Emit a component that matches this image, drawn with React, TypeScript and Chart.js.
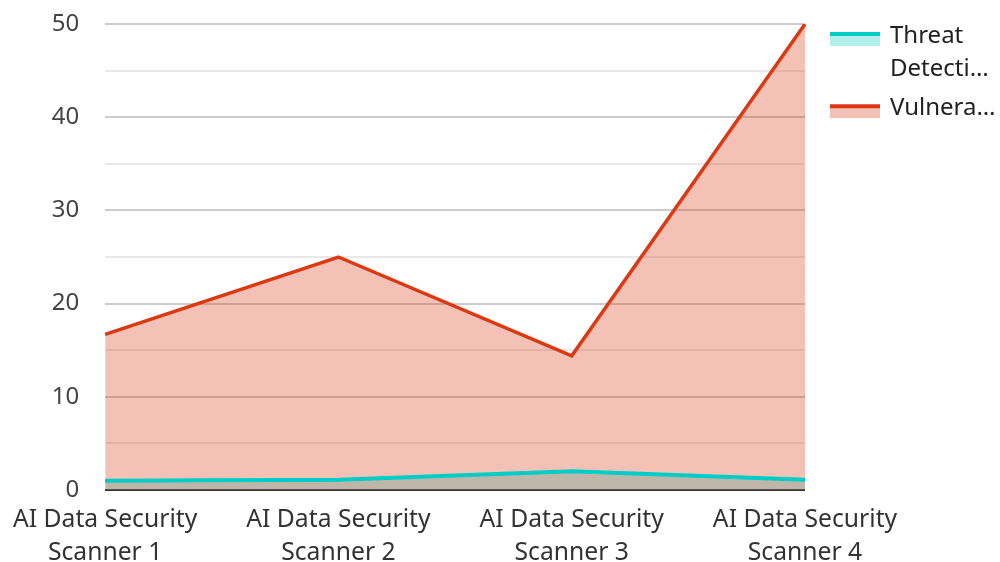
import React, { useEffect, useRef } from 'react';
import { Chart, registerables } from 'chart.js';

Chart.register(...registerables);

const categories: string[][] = [
  ['AI Data Security', 'Scanner 1'],
  ['AI Data Security', 'Scanner 2'],
  ['AI Data Security', 'Scanner 3'],
  ['AI Data Security', 'Scanner 4'],
];
const threatValues = [1.0, 1.1, 2.0, 1.1];
const vulnValues = [16.7, 25.0, 14.4, 50];
const threatLegend = ['Threat', 'Detecti…'];
const vulnLegend = ['Vulnera…'];
const yTicks = [0, 10, 20, 30, 40, 50];

const CYAN = '#00cdc8';
const CYAN_FILL = 'rgba(0, 205, 200, 0.3)';
const RED = '#dc3912';
const RED_FILL = 'rgba(218, 56, 20, 0.31)';

function makeLegendImage(line: string, fill: string): HTMLCanvasElement {
  const c = document.createElement('canvas');
  const w = 71;
  const h = 20;
  c.width = w;
  c.height = h;
  const ctx = c.getContext('2d')!;
  const x0 = 21;
  const top = 6;
  ctx.fillStyle = fill;
  ctx.fillRect(x0, top, 50, 14);
  ctx.fillStyle = line;
  ctx.fillRect(x0, top, 50, 4);
  return c;
}

export default function App() {
  const ref = useRef<HTMLCanvasElement | null>(null);

  useEffect(() => {
    document.body.style.margin = '0';
    const canvas = ref.current;
    if (!canvas) return;
    const images = [makeLegendImage(RED, RED_FILL), makeLegendImage(CYAN, CYAN_FILL)];
    const legendTexts = [vulnLegend, threatLegend];
    const font = "'Noto Sans', sans-serif";

    const chart = new Chart(canvas, {
      type: 'line',
      data: {
        labels: categories,
        datasets: [
          {
            label: 'Vulnerability',
            data: vulnValues,
            borderColor: RED,
            backgroundColor: RED_FILL,
            borderWidth: 3.5,
            fill: 'origin',
            pointRadius: 0,
            tension: 0,
          },
          {
            label: 'Threat Detection',
            data: threatValues,
            borderColor: CYAN,
            backgroundColor: CYAN_FILL,
            borderWidth: 4,
            fill: 'origin',
            pointRadius: 0,
            tension: 0,
          },
        ],
      },
      options: {
        responsive: false,
        animation: false,
        layout: { padding: { top: 8, left: 0, right: 0, bottom: 0 } },
        plugins: {
          filler: { drawTime: 'beforeDatasetsDraw' },
          tooltip: { enabled: false },
          legend: {
            position: 'right',
            align: 'start',
            reverse: true,
            maxWidth: 195,
            title: {
              display: true,
              text: '',
              font: { size: 1, lineHeight: '1px' },
              padding: { top: 9, bottom: 0 },
            },
            labels: {
              usePointStyle: true,
              pointStyleWidth: 67,
              padding: 6,
              color: '#222',
              font: { family: font, size: 24, lineHeight: 1.38 },
              generateLabels: (ch: any) => {
                const items = Chart.defaults.plugins.legend.labels.generateLabels(ch);
                return items.map((it: any) => ({
                  ...it,
                  text: legendTexts[it.datasetIndex],
                  pointStyle: images[it.datasetIndex],
                }));
              },
            },
          },
        },
        scales: {
          x: {
            grid: { display: false, drawTicks: false },
            border: { display: false },
            ticks: {
              color: '#333',
              padding: 13,
              maxRotation: 0,
              autoSkip: false,
              font: { family: font, size: 24.7, lineHeight: '33px' },
            },
            afterFit: (s: any) => {
              s.height = 72;
            },
          },
          y: {
            min: 0,
            max: 50,
            border: { display: false },
            grid: {
              drawTicks: true,
              tickLength: 16.4,
              tickColor: 'rgba(0,0,0,0)',
              color: (c: any) => {
                const v = c.tick ? c.tick.value : 0;
                if (v === 0) return '#333';
                return v % 10 === 0 ? '#cccccc' : '#e8e8e8';
              },
              lineWidth: 2,
            },
            ticks: {
              stepSize: 5,
              color: '#444',
              padding: 9.6,
              font: { family: font, size: 24 },
              callback: (v: any) => (yTicks.includes(Number(v)) ? String(v) : ''),
            },
            afterFit: (s: any) => {
              s.width = 103;
            },
          },
        },
      },
    });
    return () => chart.destroy();
  }, []);

  return (
    <div style={{ width: 1000, height: 562 }}>
      <canvas ref={ref} width={1000} height={562} style={{ display: 'block' }} />
    </div>
  );
}
